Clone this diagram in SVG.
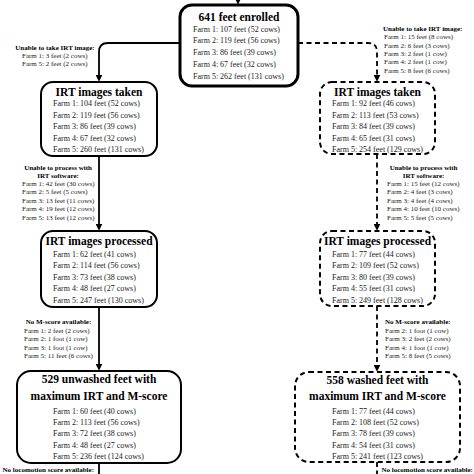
<svg xmlns="http://www.w3.org/2000/svg" width="474" height="474" viewBox="0 0 474 474">
<defs>
<marker id="arr" viewBox="0 0 8 8" refX="5" refY="4" markerWidth="7" markerHeight="7" orient="auto" markerUnits="userSpaceOnUse">
<path d="M0,0 L8,4 L0,8 z" fill="#000"/>
</marker>
<style>
text{font-family:"Liberation Serif","Times New Roman",serif;fill:#1a1a1a}
.t{font-size:11.5px;font-weight:bold;fill:#000;text-anchor:middle}
.f{font-size:8px}
.lb{font-size:7px;font-weight:bold;fill:#000}
.lf{font-size:7px}
.c{text-anchor:middle}
.box{fill:#fff;stroke:#000;stroke-width:2}
.dbox{fill:#fff;stroke:#000;stroke-width:2;stroke-dasharray:5 3.5}
.ln{fill:none;stroke:#000;stroke-width:1.8;marker-end:url(#arr)}
.dl{fill:none;stroke:#000;stroke-width:1.8;stroke-dasharray:5 3.5;marker-end:url(#arr)}
.ln2{fill:none;stroke:#000;stroke-width:1.8}
.dl2{fill:none;stroke:#000;stroke-width:1.8;stroke-dasharray:5 3.5}
</style>
</defs>
<rect width="474" height="474" fill="#fff"/>

<g id="connectors">
<path class="ln" d="M238,-5 V2"/>
<path class="ln" d="M180,43 H108 Q99,43 99,52 V79"/>
<path class="ln" d="M99,156 V228"/>
<path class="ln" d="M99,307 V368"/>
<path class="ln2" d="M99,463 V474"/>
<path class="dl" d="M298,43 H368 Q377,43 377,52 V79"/>
<path class="dl" d="M377,154 V228"/>
<path class="dl" d="M377,306 V369"/>
<path class="dl2" d="M377,462 V474"/>
</g>

<g id="labels">
<g id="lbl-left-1">
<text class="lb c" x="55" y="49.5">Unable to take IRT image:</text>
<text class="lf" x="22" y="57.5">Farm 1: 3 feet (2 cows)</text>
<text class="lf" x="22" y="65.5">Farm 5: 2 feet (2 cows)</text>
</g>
<g id="lbl-left-2">
<text class="lb c" x="58" y="169.5">Unable to process with</text>
<text class="lb c" x="58" y="177.5">IRT software:</text>
<text class="lf" x="22" y="185.5">Farm 1: 42 feet (30 cows)</text>
<text class="lf" x="22" y="194">Farm 2: 5 feet (5 cows)</text>
<text class="lf" x="22" y="202.5">Farm 3: 13 feet (11 cows)</text>
<text class="lf" x="22" y="211">Farm 4: 19 feet (12 cows)</text>
<text class="lf" x="22" y="219.5">Farm 5: 13 feet (12 cows)</text>
</g>
<g id="lbl-left-3">
<text class="lb c" x="58.5" y="323.5">No M-score available:</text>
<text class="lf" x="24" y="332.5">Farm 1: 2 feet (2 cows)</text>
<text class="lf" x="24" y="341">Farm 2: 1 foot (1 cow)</text>
<text class="lf" x="24" y="349.5">Farm 3: 1 foot (1 cow)</text>
<text class="lf" x="24" y="358">Farm 5: 11 feet (6 cows)</text>
</g>
<g id="lbl-left-4">
<text class="lb" x="94" y="472" text-anchor="end">No locomotion score available:</text>
</g>
<g id="lbl-right-1">
<text class="lb" x="383" y="31">Unable to take IRT image:</text>
<text class="lf" x="384" y="39.3">Farm 1: 15 feet (8 cows)</text>
<text class="lf" x="384" y="47.6">Farm 2: 6 feet (3 cows)</text>
<text class="lf" x="384" y="55.9">Farm 3: 2 feet (1 cow)</text>
<text class="lf" x="384" y="64.2">Farm 4: 2 feet (1 cow)</text>
<text class="lf" x="384" y="72.5">Farm 5: 8 feet (6 cows)</text>
</g>
<g id="lbl-right-2">
<text class="lb c" x="423.5" y="169.5">Unable to process with</text>
<text class="lb c" x="423.5" y="177.5">IRT software:</text>
<text class="lf" x="387" y="185.5">Farm 1: 15 feet (12 cows)</text>
<text class="lf" x="387" y="194">Farm 2: 4 feet (3 cows)</text>
<text class="lf" x="387" y="202.5">Farm 3: 4 feet (4 cows)</text>
<text class="lf" x="387" y="211">Farm 4: 10 feet (10 cows)</text>
<text class="lf" x="387" y="219.5">Farm 5: 5 feet (5 cows)</text>
</g>
<g id="lbl-right-3">
<text class="lb" x="385" y="323.5">No M-score available:</text>
<text class="lf" x="385" y="332.5">Farm 2: 1 foot (1 cow)</text>
<text class="lf" x="385" y="341">Farm 3: 2 feet (2 cows)</text>
<text class="lf" x="385" y="349.5">Farm 4: 1 foot (1 cow)</text>
<text class="lf" x="385" y="358">Farm 5: 8 feet (5 cows)</text>
</g>
<g id="lbl-right-4">
<text class="lb" x="381.5" y="472">No locomotion score available:</text>
</g>
</g>

<g id="enrolled">
<rect class="box" x="180" y="5" width="118" height="81" rx="12" style="stroke-width:3"/>
<text class="t" x="239" y="21">641 feet enrolled</text>
<text class="f" x="193" y="31.5">Farm 1: 107 feet (52 cows)</text>
<text class="f" x="193" y="43.3">Farm 2: 119 feet (56 cows)</text>
<text class="f" x="193" y="55">Farm 3: 86 feet (39 cows)</text>
<text class="f" x="193" y="66.8">Farm 4: 67 feet (32 cows)</text>
<text class="f" x="193" y="78.5">Farm 5: 262 feet (131 cows)</text>
</g>

<g id="taken-unwashed">
<rect class="box" x="41" y="82" width="116" height="74" rx="12"/>
<text class="t" x="99" y="96">IRT images taken</text>
<text class="f" x="53" y="106">Farm 1: 104 feet (52 cows)</text>
<text class="f" x="53" y="117.5">Farm 2: 119 feet (56 cows)</text>
<text class="f" x="53" y="129">Farm 3: 86 feet (39 cows)</text>
<text class="f" x="53" y="140.5">Farm 4: 67 feet (32 cows)</text>
<text class="f" x="53" y="152">Farm 5: 260 feet (131 cows)</text>
</g>

<g id="processed-unwashed">
<rect class="box" x="41" y="231" width="116" height="76" rx="12"/>
<text class="t" x="99" y="245">IRT images processed</text>
<text class="f" x="53" y="256.5">Farm 1: 62 feet (41 cows)</text>
<text class="f" x="53" y="268">Farm 2: 114 feet (56 cows)</text>
<text class="f" x="53" y="279.5">Farm 3: 73 feet (38 cows)</text>
<text class="f" x="53" y="291">Farm 4: 48 feet (27 cows)</text>
<text class="f" x="53" y="302.5">Farm 5: 247 feet (130 cows)</text>
</g>

<g id="final-unwashed">
<rect class="box" x="17" y="371" width="164" height="92" rx="14"/>
<text class="t" x="99" y="383">529 unwashed feet with</text>
<text class="t" x="99" y="400">maximum IRT and M-score</text>
<text class="f" x="53" y="413.5">Farm 1: 60 feet (40 cows)</text>
<text class="f" x="53" y="424.9">Farm 2: 113 feet (56 cows)</text>
<text class="f" x="53" y="436.3">Farm 3: 72 feet (38 cows)</text>
<text class="f" x="53" y="447.7">Farm 4: 48 feet (27 cows)</text>
<text class="f" x="53" y="459.1">Farm 5: 236 feet (124 cows)</text>
</g>

<g id="taken-washed">
<rect class="dbox" x="320" y="82" width="115" height="72" rx="12"/>
<text class="t" x="377.5" y="96">IRT images taken</text>
<text class="f" x="332" y="106">Farm 1: 92 feet (46 cows)</text>
<text class="f" x="332" y="117.5">Farm 2: 113 feet (53 cows)</text>
<text class="f" x="332" y="129">Farm 3: 84 feet (39 cows)</text>
<text class="f" x="332" y="140.5">Farm 4: 65 feet (31 cows)</text>
<text class="f" x="332" y="152">Farm 5: 254 feet (129 cows)</text>
</g>

<g id="processed-washed">
<rect class="dbox" x="320" y="231" width="115" height="75" rx="12"/>
<text class="t" x="377.5" y="245">IRT images processed</text>
<text class="f" x="332" y="256.5">Farm 1: 77 feet (44 cows)</text>
<text class="f" x="332" y="268">Farm 2: 109 feet (52 cows)</text>
<text class="f" x="332" y="279.5">Farm 3: 80 feet (39 cows)</text>
<text class="f" x="332" y="291">Farm 4: 55 feet (31 cows)</text>
<text class="f" x="332" y="302.5">Farm 5: 249 feet (128 cows)</text>
</g>

<g id="final-washed">
<rect class="dbox" x="295" y="372" width="165" height="90" rx="14"/>
<text class="t" x="377.5" y="383.5">558 washed feet with</text>
<text class="t" x="377.5" y="400">maximum IRT and M-score</text>
<text class="f" x="332" y="413.5">Farm 1: 77 feet (44 cows)</text>
<text class="f" x="332" y="424.9">Farm 2: 108 feet (52 cows)</text>
<text class="f" x="332" y="436.3">Farm 3: 78 feet (39 cows)</text>
<text class="f" x="332" y="447.7">Farm 4: 54 feet (31 cows)</text>
<text class="f" x="332" y="459.1">Farm 5: 241 feet (123 cows)</text>
</g>
</svg>
